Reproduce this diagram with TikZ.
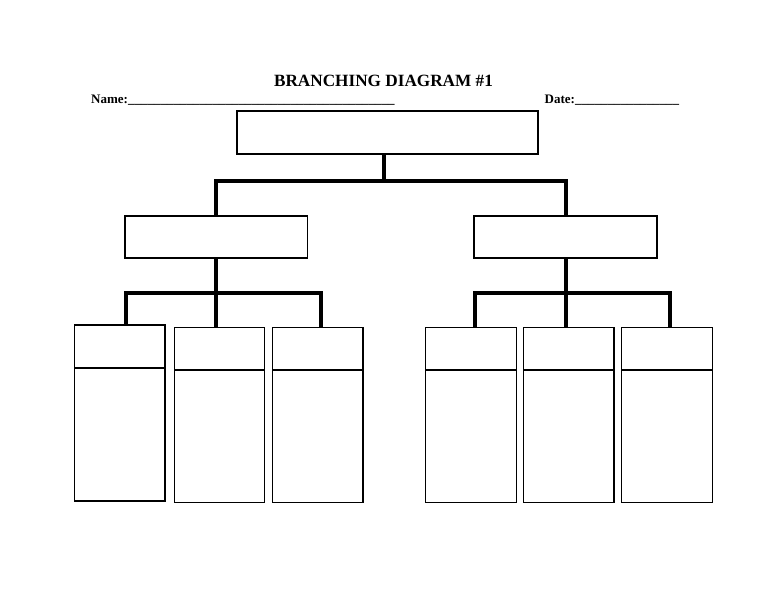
\documentclass[tikz,border=0pt]{standalone}
\usepackage{fontspec}
\setmainfont{Liberation Serif}
\begin{document}
\begin{tikzpicture}[x=1pt,y=-1pt,
  box/.style={draw, line width=1.8pt, rectangle, inner sep=0pt, outer sep=0pt},
  divider/.style={line width=1.8pt},
  link/.style={line width=4pt, line join=miter},
  titletext/.style={font=\bfseries\fontsize{17.2}{20}\selectfont, inner sep=0pt},
  labeltext/.style={font=\bfseries\fontsize{13}{15}\selectfont, inner sep=0pt}]
\useasboundingbox (0,0) rectangle (768,594);

% texts
\node[titletext, anchor=base] (title) at (383.5,86.7) {BRANCHING DIAGRAM \#1};
\node[labeltext, anchor=base west] (name) at (91,103) {Name:\_\_\_\_\_\_\_\_\_\_\_\_\_\_\_\_\_\_\_\_\_\_\_\_\_\_\_\_\_\_\_\_\_\_\_\_\_\_\_\_\_};
\node[labeltext, anchor=base west] (date) at (544.5,103) {Date:\_\_\_\_\_\_\_\_\_\_\_\_\_\_\_\_};

% boxes
\node[box, minimum width=301pt, minimum height=43pt] (top) at (387.5,132.5) {};
\node[box, minimum width=182.5pt, minimum height=42pt] (midL) at (216.25,237) {};
\node[box, minimum width=183pt, minimum height=42pt] (midR) at (565.5,237) {};

\node[box, minimum width=90.5pt, minimum height=176pt] (b1) at (119.75,413) {};
\node[box, minimum width=90pt, minimum height=175pt] (b2) at (219.5,415) {};
\node[box, minimum width=90.5pt, minimum height=175pt] (b3) at (317.75,415) {};
\node[box, minimum width=91pt, minimum height=175pt] (b4) at (471,415) {};
\node[box, minimum width=90.5pt, minimum height=175pt] (b5) at (568.75,415) {};
\node[box, minimum width=91pt, minimum height=175pt] (b6) at (667,415) {};

% dividers
\draw[divider] ([yshift=-43pt]b1.north west) -- ([yshift=-43pt]b1.north east);
\foreach \b in {b2,b3,b4,b5,b6}
  \draw[divider] ([yshift=-42.5pt]\b.north west) -- ([yshift=-42.5pt]\b.north east);

% connectors: level 1
\coordinate (j0) at (383.5,181);
\draw[link] (top.south -| j0) -- (j0);
\draw[link] (midL.north) |- (j0) -| (midR.north);

% connectors: left group
\coordinate (jL) at (216.25,293);
\coordinate (l1) at (125.5,293);
\coordinate (l3) at (321,293);
\draw[link] (midL.south) -- (jL);
\draw[link] (l1 |- b1.north) -- (l1) -- (l3) -- (l3 |- b3.north);
\draw[link] (jL) -- (jL |- b2.north);

% connectors: right group
\coordinate (jR) at (565.5,293);
\coordinate (r1) at (474.5,293);
\coordinate (r3) at (670,293);
\draw[link] (midR.south) -- (jR);
\draw[link] (r1 |- b4.north) -- (r1) -- (r3) -- (r3 |- b6.north);
\draw[link] (jR) -- (jR |- b5.north);
\end{tikzpicture}
\end{document}
